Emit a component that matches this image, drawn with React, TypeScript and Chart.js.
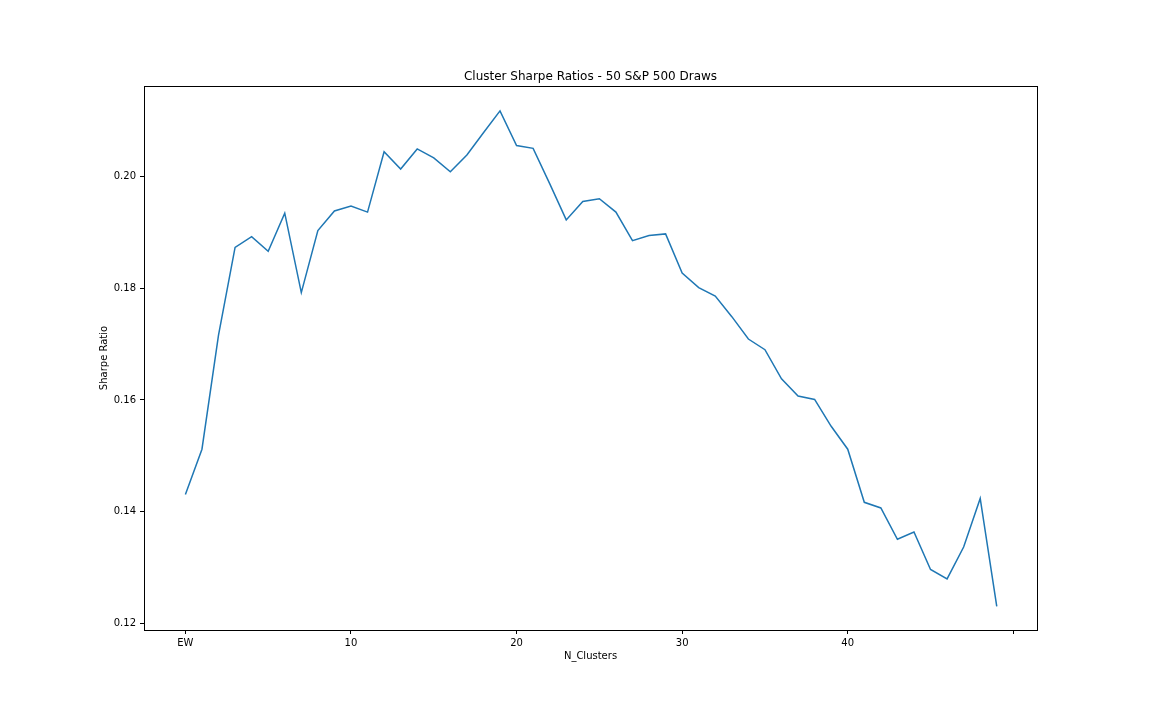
import React, { useEffect, useRef } from "react";
import { Chart, registerables } from "chart.js";

Chart.register(...registerables);

const TITLE = "Cluster Sharpe Ratios - 50 S&P 500 Draws";
const X_TITLE = "N_Clusters";
const Y_TITLE = "Sharpe Ratio";

const N_CLUSTERS = [
  0, 1, 2, 3, 4, 5, 6, 7, 8, 9,
  10, 11, 12, 13, 14, 15, 16, 17, 18, 19,
  20, 21, 22, 23, 24, 25, 26, 27, 28, 29,
  30, 31, 32, 33, 34, 35, 36, 37, 38, 39,
  40, 41, 42, 43, 44, 45, 46, 47, 48, 49,
];

const SHARPE = [
  0.1431, 0.1512, 0.1716, 0.1873, 0.1892, 0.1866, 0.1934, 0.1792, 0.1903, 0.1938,
  0.1947, 0.1936, 0.2044, 0.2013, 0.2049, 0.2033, 0.2008, 0.2038, 0.2078, 0.2117,
  0.2055, 0.2050, 0.1987, 0.1922, 0.1955, 0.1960, 0.1936, 0.1885, 0.1894, 0.1897,
  0.1827, 0.1801, 0.1786, 0.1749, 0.1709, 0.1690, 0.1638, 0.1607, 0.1601, 0.1553,
  0.1512, 0.1417, 0.1407, 0.1351, 0.1364, 0.1297, 0.1280, 0.1337, 0.1424, 0.1231,
];

const X_TICK_VALUES = [0, 10, 20, 30, 40, 50];
const X_TICK_LABELS = ["EW", "10", "20", "30", "40", ""];
const Y_TICK_VALUES = [0.12, 0.14, 0.16, 0.18, 0.2];
const Y_TICK_LABELS = ["0.12", "0.14", "0.16", "0.18", "0.20"];

const FONT = "'DejaVu Sans', sans-serif";

const framePlugin = {
  id: "frameAndTitle",
  afterDraw(chart: any) {
    const { ctx, chartArea: a } = chart;
    ctx.save();
    ctx.strokeStyle = "#000";
    ctx.lineWidth = 1;
    ctx.strokeRect(a.left + 0.5, a.top + 0.5, a.right - a.left, a.bottom - a.top);
    ctx.fillStyle = "#000";
    ctx.font = `12px ${FONT}`;
    ctx.textAlign = "center";
    ctx.textBaseline = "alphabetic";
    ctx.fillText(TITLE, (a.left + a.right) / 2, a.top - 6);
    ctx.restore();
  },
};

export default function App() {
  const ref = useRef<HTMLCanvasElement>(null);

  useEffect(() => {
    if (!ref.current) return;
    const tickFont = { family: FONT, size: 10 };
    const chart = new Chart(ref.current, {
      type: "line",
      data: {
        datasets: [
          {
            data: SHARPE.map((y, i) => ({ x: N_CLUSTERS[i], y })),
            borderColor: "#1f77b4",
            borderWidth: 1.5,
            pointRadius: 0,
            fill: false,
            tension: 0,
          },
        ],
      },
      options: {
        animation: false,
        responsive: false,
        devicePixelRatio: 1,
        layout: { padding: { left: 0, top: 86, right: 115, bottom: 0 } },
        plugins: {
          legend: { display: false },
          tooltip: { enabled: false },
          title: { display: false },
        },
        scales: {
          x: {
            type: "linear",
            min: -2.5,
            max: 51.43,
            afterBuildTicks: (s: any) => {
              s.ticks = X_TICK_VALUES.map((v) => ({ value: v }));
            },
            afterFit: (s: any) => {
              s.height = 90;
            },
            ticks: {
              callback: (_v: any, i: number) => X_TICK_LABELS[i],
              font: tickFont,
              color: "#000",
              padding: 3,
              maxRotation: 0,
              autoSkip: false,
            },
            grid: {
              drawOnChartArea: false,
              drawTicks: true,
              tickLength: 4,
              color: "#000",
              lineWidth: 1,
            },
            border: { display: false },
            title: {
              display: true,
              text: X_TITLE,
              font: tickFont,
              color: "#000",
              padding: { top: 0, bottom: 58 },
            },
          },
          y: {
            type: "linear",
            min: 0.11887,
            max: 0.21615,
            afterBuildTicks: (s: any) => {
              s.ticks = Y_TICK_VALUES.map((v) => ({ value: v }));
            },
            afterFit: (s: any) => {
              s.width = 144;
            },
            ticks: {
              callback: (_v: any, i: number) => Y_TICK_LABELS[i],
              font: tickFont,
              color: "#000",
              padding: 4,
              autoSkip: false,
            },
            grid: {
              drawOnChartArea: false,
              drawTicks: true,
              tickLength: 4,
              color: "#000",
              lineWidth: 1,
            },
            border: { display: false },
            title: {
              display: true,
              text: Y_TITLE,
              font: tickFont,
              color: "#000",
              padding: { top: 98, bottom: 0 },
            },
          },
        },
      },
      plugins: [framePlugin],
    });
    return () => chart.destroy();
  }, []);

  return (
    <div style={{ position: "absolute", left: 0, top: 0, width: 1152, height: 720, background: "#fff" }}>
      <canvas ref={ref} width={1152} height={720} style={{ width: 1152, height: 720, display: "block" }} />
    </div>
  );
}
